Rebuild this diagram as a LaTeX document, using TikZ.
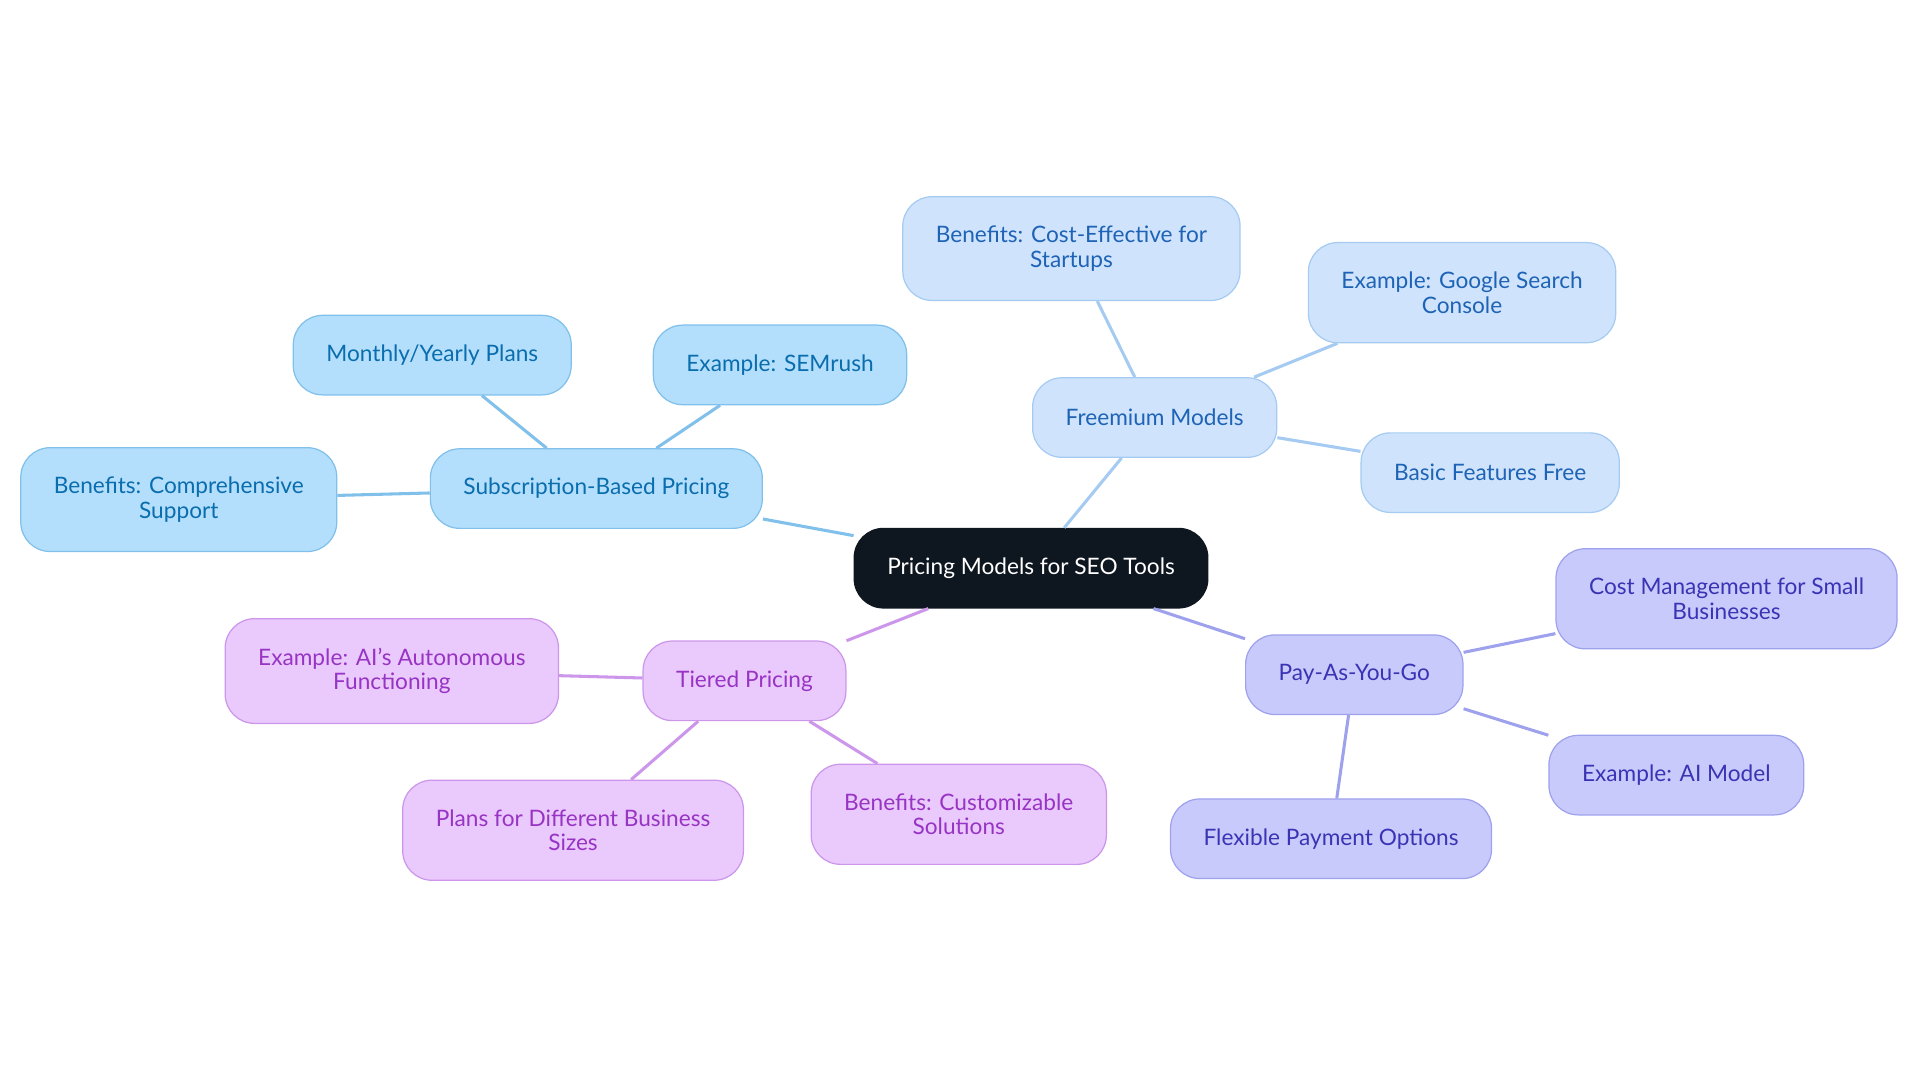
\documentclass[tikz,border=0pt]{standalone}
\usepackage{fontspec}
\setmainfont{Lato}
\definecolor{rootfill}{HTML}{0E1620}
\definecolor{subfill}{HTML}{B3DFFC}
\definecolor{subline}{HTML}{80C0EA}
\definecolor{subtext}{HTML}{0A6DAE}
\definecolor{freefill}{HTML}{CFE4FC}
\definecolor{freeline}{HTML}{A5CBF2}
\definecolor{freetext}{HTML}{1E63B5}
\definecolor{payfill}{HTML}{C8CAFC}
\definecolor{payline}{HTML}{9EA1EC}
\definecolor{paytext}{HTML}{3A34B4}
\definecolor{tierfill}{HTML}{EAC9FD}
\definecolor{tierline}{HTML}{CC97EA}
\definecolor{tiertext}{HTML}{9834C4}
\tikzset{
  box/.style={rounded corners=24pt, inner xsep=27pt, inner ysep=24pt,
    minimum height=65pt, align=center, line width=1pt,
    font=\fontsize{18.5}{20}\selectfont},
  rootbox/.style={box, fill=rootfill, draw=rootfill, text=white},
  subbox/.style={box, fill=subfill, draw=subline, text=subtext},
  freebox/.style={box, fill=freefill, draw=freeline, text=freetext},
  paybox/.style={box, fill=payfill, draw=payline, text=paytext},
  tierbox/.style={box, fill=tierfill, draw=tierline, text=tiertext},
  link/.style={line width=2.5pt}
}
\begin{document}
\begin{tikzpicture}[x=1pt, y=-1pt]
		\useasboundingbox (0,0) rectangle (1568,884);

		% Centre
		\node[rootbox] (root) at (842, 464) {Pricing Models for SEO Tools};

		% Subscription branch
		\node[subbox] (sub) at (487, 399) {Subscription-Based Pricing};
		\node[subbox] (subPlans) at (353, 290) {Monthly/Yearly Plans};
		\node[subbox] (subEx) at (637, 298) {Example: SEMrush};
		\node[subbox] (subBen) at (146, 408) {Benefits: Comprehensive\\Support};

		% Freemium branch
		\node[freebox] (free) at (943, 341) {Freemium Models};
		\node[freebox] (freeBen) at (875, 203) {Benefits: Cost-Effective for\\Startups};
		\node[freebox] (freeEx) at (1194, 239) {Example: Google Search\\Console};
		\node[freebox] (freeBasic) at (1217, 386) {Basic Features Free};

		% Pay-as-you-go branch
		\node[paybox] (pay) at (1106, 551) {Pay-As-You-Go};
		\node[paybox] (payCost) at (1410, 489) {Cost Management for Small\\Businesses};
		\node[paybox] (payEx) at (1369, 633) {Example: AI Model};
		\node[paybox] (payFlex) at (1087, 685) {Flexible Payment Options};

		% Tiered branch
		\node[tierbox] (tier) at (608, 556) {Tiered Pricing};
		\node[tierbox] (tierEx) at (320, 548) {Example: AI's Autonomous\\Functioning};
		\node[tierbox] (tierPlans) at (468, 678) {Plans for Different Business\\Sizes};
		\node[tierbox] (tierBen) at (783, 665) {Benefits: Customizable\\Solutions};

		\draw[link, subline] (root) -- (sub);
		\draw[link, subline] (sub) -- (subPlans);
		\draw[link, subline] (sub) -- (subEx);
		\draw[link, subline] (sub) -- (subBen);

		\draw[link, freeline] (root) -- (free);
		\draw[link, freeline] (free) -- (freeBen);
		\draw[link, freeline] (free) -- (freeEx);
		\draw[link, freeline] (free) -- (freeBasic);

		\draw[link, payline] (root) -- (pay);
		\draw[link, payline] (pay) -- (payCost);
		\draw[link, payline] (pay) -- (payEx);
		\draw[link, payline] (pay) -- (payFlex);

		\draw[link, tierline] (root) -- (tier);
		\draw[link, tierline] (tier) -- (tierEx);
		\draw[link, tierline] (tier) -- (tierPlans);
		\draw[link, tierline] (tier) -- (tierBen);

	\end{tikzpicture}
\end{document}
